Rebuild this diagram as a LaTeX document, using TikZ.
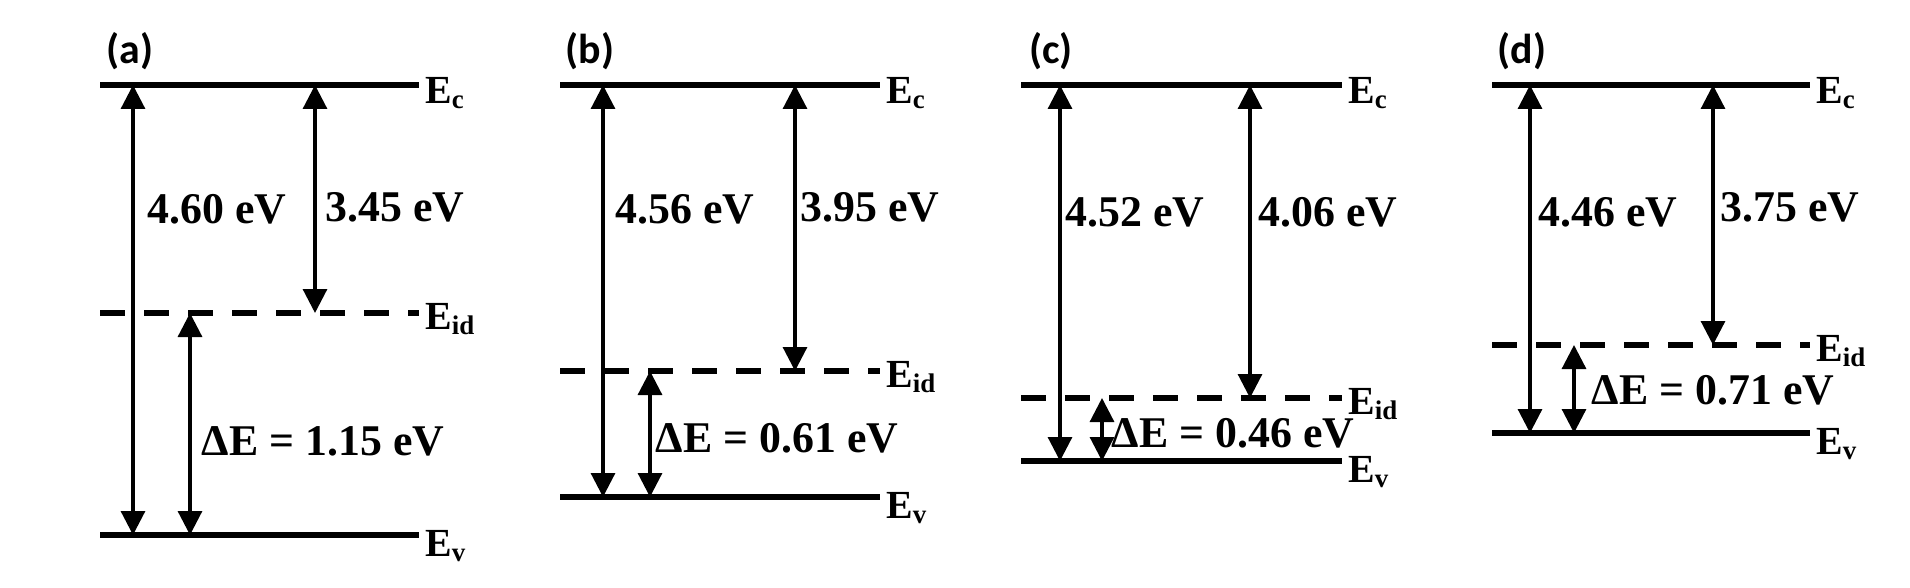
\documentclass[tikz,border=0pt]{standalone}
\usepackage{fontspec}
\setmainfont{Liberation Serif}
\newfontfamily\lblfont{Carlito}
\usetikzlibrary{arrows.meta}
\tikzset{
  x=1bp,y=-1bp,
  level/.style={line width=5.5bp},
  idlevel/.style={line width=5.5bp,dash pattern=on 25bp off 19bp},
  gap/.style={line width=3.2bp,{Triangle[width=24bp,length=24bp]}-{Triangle[width=24bp,length=24bp]}},
  val/.style={font=\fontsize{44}{44}\selectfont\bfseries,inner sep=0pt},
  bandlbl/.style={font=\fontsize{40}{40}\selectfont\bfseries,anchor=west,inner sep=0pt},
  plbl/.style={font=\lblfont\fontsize{42}{42}\selectfont\bfseries,inner sep=0pt}
}
\newcommand{\sbs}[1]{\raisebox{-0.25ex}{\fontsize{27}{27}\selectfont #1}}
% #1 name, #2 xl, #3 xr, #4 yEid, #5 yEv, #6 xA, #7 xD, #8 xB, #9 panel letter
\newcommand{\bandpanel}[9]{%
  \coordinate (#1cl) at (#2,85); \coordinate (#1cr) at (#3,85);
  \coordinate (#1il) at (#2,#4); \coordinate (#1ir) at (#3,#4);
  \coordinate (#1vl) at (#2,#5); \coordinate (#1vr) at (#3,#5);
  \draw[level] (#1cl) -- (#1cr);
  \draw[idlevel] (#1il) -- (#1ir);
  \draw[level] (#1vl) -- (#1vr);
  \coordinate (#1ac) at (#6,85); \coordinate (#1av) at (#6,#5);
  \coordinate (#1di) at (#7,#4); \coordinate (#1dv) at (#7,#5);
  \coordinate (#1bc) at (#8,85); \coordinate (#1bi) at (#8,#4);
  \draw[gap] (#1ac) -- (#1av);
  \draw[gap] (#1di) -- (#1dv);
  \draw[gap] (#1bc) -- (#1bi);
  \node[bandlbl] (#1Ec) at ([xshift=6bp,yshift=-8bp]#1cr) {E\sbs{c}};
  \node[bandlbl] (#1Ei) at ([xshift=6bp,yshift=-6bp]#1ir) {E\sbs{id}};
  \node[bandlbl] (#1Ev) at ([xshift=6bp,yshift=-11bp]#1vr) {E\sbs{v}};
  \node[plbl] (#1p) at ([xshift=30bp,yshift=34bp]#1cl) {(#9)};
}
\begin{document}
\begin{tikzpicture}
\useasboundingbox (0,0) rectangle (1910,588);
\fill[white] (0,0) rectangle (1910,588);
\bandpanel{a}{100}{419}{313}{535}{133}{190}{315}{a}
\node[val] (a1) at (217,209) {4.60 eV};
\node[val] (a2) at (395,207) {3.45 eV};
\node[val] (a3) at (323,441) {ΔE = 1.15 eV};
\bandpanel{b}{560}{880}{371}{497}{603}{650}{795}{b}
\node[val] (b1) at (685,209) {4.56 eV};
\node[val] (b2) at (870,207) {3.95 eV};
\node[val] (b3) at (777,438) {ΔE = 0.61 eV};
\bandpanel{c}{1021}{1342}{398}{461}{1060}{1102}{1250}{c}
\node[val] (c1) at (1135,212) {4.52 eV};
\node[val] (c2) at (1328,212) {4.06 eV};
\node[val] (c3) at (1233,433) {ΔE = 0.46 eV};
\bandpanel{d}{1492}{1810}{345}{433}{1530}{1574}{1713}{d}
\node[val] (d1) at (1608,212) {4.46 eV};
\node[val] (d2) at (1790,207) {3.75 eV};
\node[val] (d3) at (1713,390) {ΔE = 0.71 eV};
\end{tikzpicture}
\end{document}
